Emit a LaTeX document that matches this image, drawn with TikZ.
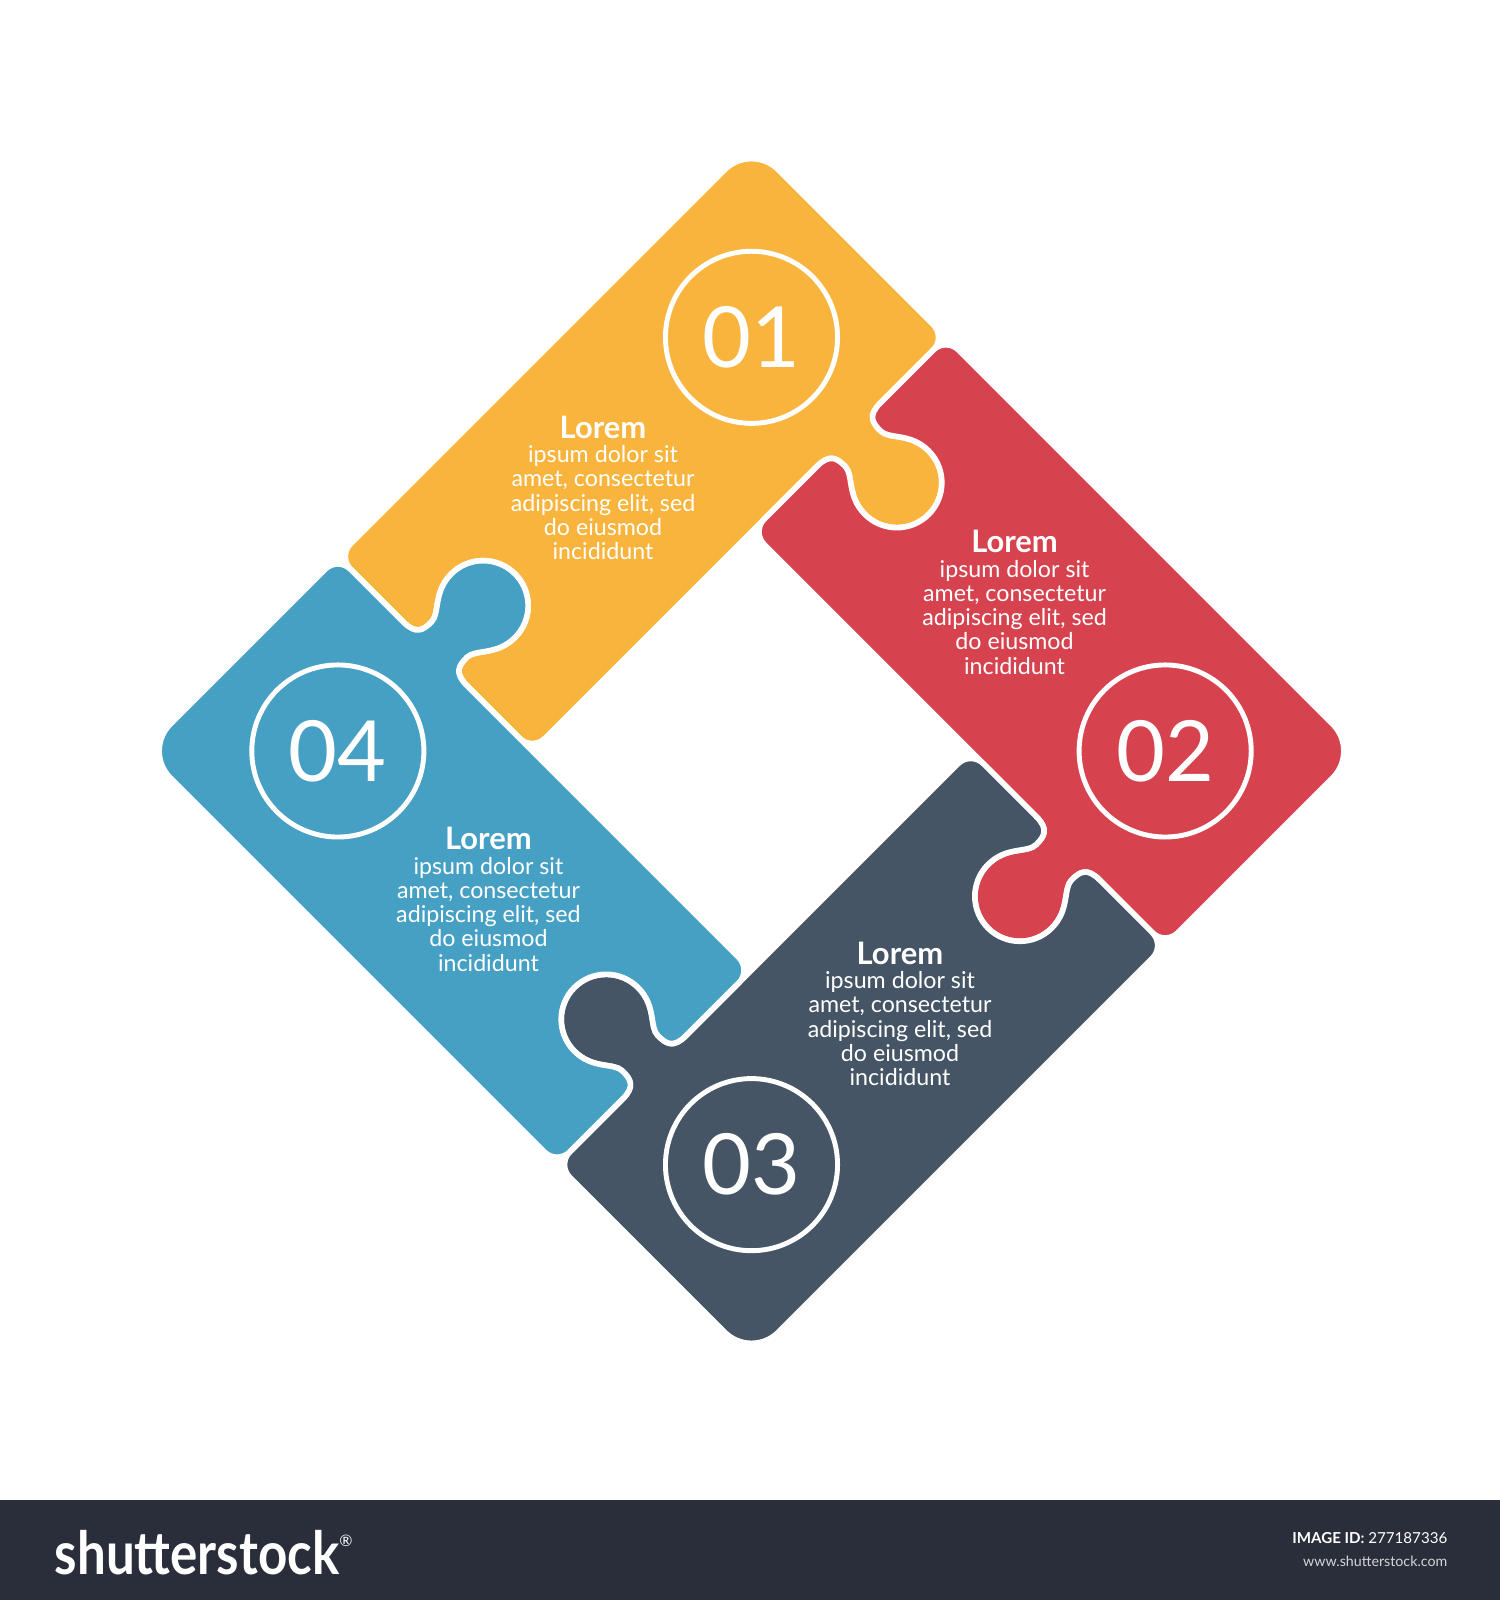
\documentclass[tikz,border=0pt]{standalone}
\usepackage{fontspec}
\setmainfont{Lato}
\newfontfamily\numfont{Lato}
\usepackage{tikz}
\definecolor{pyellow}{HTML}{F8B43D}
\definecolor{pred}{HTML}{D6434F}
\definecolor{pdark}{HTML}{455565}
\definecolor{pblue}{HTML}{46A0C3}
\definecolor{barcol}{HTML}{292E3A}
\tikzstyle{piece} = [draw=white, line width=1.6pt, line join=round]
\tikzstyle{numring} = [circle, draw=white, line width=1.4pt, minimum size=1.72cm, inner sep=0pt, text=white, font=\numfont\fontsize{24}{24}\selectfont]
\tikzstyle{blurb} = [text=white, align=center, inner sep=0pt, font=\fontsize{6.6}{6.9}\selectfont]
\tikzstyle{bartext} = [inner sep=0pt, text=white]

% one puzzle piece, in the frame turned by 45 degrees
\newcommand{\piecepath}{(-430,-137) -- (-430,392) arc[start angle=180, end angle=90, radius=38]
 -- (-173,430) arc[start angle=90, end angle=0, radius=18]
 -- (-155,337.5) .. controls (-155,319.5) and (-147,317.5) .. (-135,317.5)
 .. controls (-123,317.5) and (-113,337.5) .. (-87,337.5)
 arc[start angle=90, end angle=-90, radius=45]
 .. controls (-113,247.5) and (-123,267.5) .. (-135,267.5)
 .. controls (-147,267.5) and (-155,265.5) .. (-155,247.5)
 -- (-155,-137) arc[start angle=0, end angle=-90, radius=18]
 -- (-247.5,-155) .. controls (-265.5,-155) and (-267.5,-147) .. (-267.5,-135)
 .. controls (-267.5,-123) and (-247.5,-113) .. (-247.5,-87)
 arc[start angle=0, end angle=180, radius=45]
 .. controls (-337.5,-113) and (-317.5,-123) .. (-317.5,-135)
 .. controls (-317.5,-147) and (-319.5,-155) .. (-337.5,-155)
 -- (-412,-155) arc[start angle=-90, end angle=-180, radius=18] -- cycle}

\begin{document}
\begin{tikzpicture}[x=0.01cm, y=0.01cm]
\useasboundingbox (0,0) rectangle (1500,1600);
\fill[white] (0,0) rectangle (1500,1600);

\begin{scope}[shift={(751.5,849)}, rotate=-45]
\foreach \col/\num/\ang in {pyellow/01/0, pred/02/-90, pdark/03/-180, pblue/04/-270}{
  \begin{scope}[rotate=\ang]
    \fill[piece, fill=\col] \piecepath;
    \node[numring] (c\num) at (-292.5,292.5) {\num};
    \node[blurb] (t\num) at (-291,81) {{\fontsize{8.8}{9}\selectfont\bfseries Lorem}\\
      ipsum dolor sit\\ amet, consectetur\\ adipiscing elit, sed\\ do eiusmod\\ incididunt};
  \end{scope}
}
\end{scope}

% bottom bar
\fill[barcol] (0,0) rectangle (1500,100);
\node[bartext, anchor=base west] (logo) at (54,25) {\scalebox{0.86}[1]{\fontsize{16.9}{17}\selectfont\bfseries shutterstock}\raisebox{8pt}{\fontsize{4.5}{5}\selectfont ®}};
\node[bartext, anchor=base east] (imgid) at (1448,57) {\fontsize{4.3}{5}\selectfont\textbf{IMAGE ID:} 277187336};
\node[bartext, anchor=base east, text=white!80!barcol] (site) at (1448,33) {\fontsize{4.05}{5}\selectfont www.shutterstock.com};
\end{tikzpicture}
\end{document}
